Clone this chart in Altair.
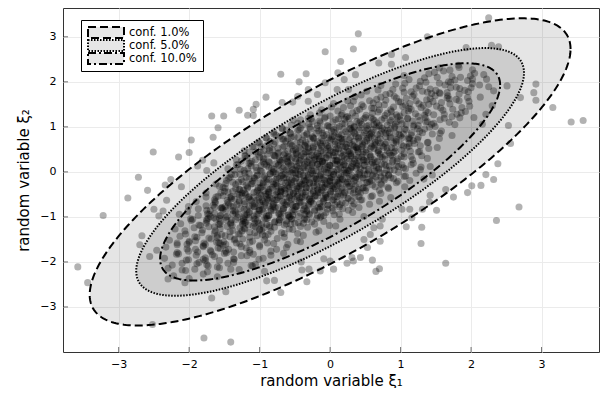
import altair as alt
import pandas as pd
import numpy as np

# ---- scatter samples (outer / sparse points) ----
edge_points = [
    (-1.68,1.24),(-1.51,1.24),(-1.29,1.37),(-1.59,0.98),(-1.66,0.77),(-1.97,0.71),(-2.51,0.44),(-2.15,0.33),
    (-2.00,0.43),(-2.72,-0.12),(-2.59,-0.41),(-2.87,-0.58),(-3.22,-0.97),(-2.26,-0.17),(-2.34,-0.29),(-2.32,-0.63),
    (-2.50,-0.83),(-2.43,-0.98),(-2.37,-0.87),(-3.58,-2.11),(-3.44,-2.46),(-2.67,-1.42),(-2.70,-1.62),(-2.56,-1.88),
    (-2.46,-1.74),(-2.52,-3.39),(-1.79,-3.69),(-1.41,-3.78),(-2.30,-2.38),(-2.06,-2.46),(-1.68,-2.80),(-1.48,-2.66),
    (-2.10,-2.18),(-0.07,2.67),(0.33,2.73),(0.15,2.45),(-0.70,2.17),(-0.34,2.18),(-0.44,2.00),(0.11,2.20),
    (-0.91,1.66),(-1.05,1.50),(-1.09,1.39),(-1.17,1.26),(-1.09,1.25),(-0.68,1.54),(-0.53,1.55),(-0.46,1.68),
    (-0.31,1.83),(-0.31,1.57),(2.25,3.42),(1.38,3.00),(1.07,2.54),(2.29,2.81),(2.39,2.78),(1.93,2.76),
    (2.51,1.91),(2.92,1.95),(2.89,1.76),(2.92,1.59),(2.70,1.65),(3.16,1.43),(3.42,1.11),(3.59,1.14),
    (2.53,1.03),(1.83,2.32),(1.85,2.10),(2.02,2.06),(2.00,1.87),(1.71,1.87),(1.68,2.00),(1.95,1.65),
    (1.66,1.64),(1.56,1.74),(1.40,1.50),(2.32,1.80),(2.30,1.47),(2.21,1.28),(2.04,1.21),(2.16,1.06),
    (1.87,1.43),(1.80,1.28),(2.68,-0.78),(2.36,-1.08),(2.38,0.18),(2.32,-0.17),(2.21,-0.06),(2.14,-0.30),
    (2.01,-0.31),(1.95,-0.46),(1.75,-0.56),(1.64,-0.39),(1.51,-0.85),(1.30,-1.23),(1.29,-1.59),(1.64,-2.03),
    (1.08,-1.22),(1.16,-1.02),(1.31,-0.83),(1.41,-0.67),(1.13,-0.83),(1.02,-0.83),(1.42,-0.52),(0.71,-1.54),
    (0.60,-1.96),(0.70,-2.15),(0.65,-2.21),(0.43,-1.90),(0.33,-1.98),(0.24,-2.03),(0.05,-2.16),(0.53,-1.68),
    (0.48,-1.50),(0.57,-1.39),(0.71,-1.20),(0.62,-1.24),(0.74,-1.05),(-0.33,-2.44),(-0.70,-2.68),(-0.79,-2.41),
    (-0.90,-2.42),(-0.40,-2.18),(-0.30,-2.16),(-0.14,-2.20),(-0.93,-2.21),(-1.06,-2.05),(-1.09,-1.83),(-0.41,-2.00),
    (-0.09,-1.93),(0.00,-1.98),(0.31,-1.90),(0.40,3.07),(0.87,2.61),(0.69,2.42),(0.87,2.39),(2.56,0.63),
    (-2.17,-1.62),(-2.01,-1.76),(-2.00,-1.54),(-1.86,-2.01),(-1.80,-1.94),(-1.73,-2.09),(-1.77,-1.61),(-1.58,-1.57),
    (-1.48,-1.76),(-1.41,-2.16),(-1.81,0.26),(-1.75,0.03),(-1.65,0.20),(-1.88,0.13),(-2.11,-0.33),(-2.01,-0.77),
    (-2.14,-0.94),(-1.95,-1.05),(-0.18,1.72),(-0.07,1.98),(0.10,1.83),(0.20,2.05),(0.26,1.83),(0.36,2.16),
]

# ---- dense core, estimated band by band (first pass) ----
core_points = [
    (1.12,2.05),(1.48,2.21),(1.73,2.12),(1.95,2.03),(2.18,2.16),(1.34,2.09),(1.61,2.24),(2.05,2.19),
    (0.68,1.82),(0.93,1.95),(1.15,1.78),(1.27,1.91),(1.42,1.84),(1.55,1.97),(1.66,1.76),(1.79,1.88),(1.91,1.81),
    (2.12,1.93),(1.03,1.86),(1.38,1.77),(1.71,1.99),
    (0.25,1.58),(0.44,1.71),(0.61,1.53),(0.72,1.66),(0.85,1.74),(0.97,1.56),(1.08,1.63),(1.19,1.72),(1.26,1.51),
    (1.37,1.60),(1.49,1.69),(1.58,1.54),(1.69,1.62),(1.83,1.73),(1.97,1.57),(0.91,1.68),(1.13,1.52),(1.44,1.74),
    (-0.15,1.31),(0.02,1.44),(0.17,1.29),(0.29,1.47),(0.38,1.36),(0.51,1.26),(0.59,1.42),(0.68,1.33),(0.77,1.49),
    (0.86,1.38),(0.94,1.27),(1.03,1.45),(1.11,1.35),(1.21,1.29),(1.29,1.43),(1.39,1.32),(1.51,1.46),(1.62,1.28),
    (1.74,1.39),(1.92,1.34),(0.45,1.49),(0.81,1.30),(1.07,1.48),(1.34,1.26),
    (-0.46,1.08),(-0.31,1.19),(-0.18,1.03),(-0.07,1.22),(0.04,1.11),(0.13,1.01),(0.21,1.17),(0.29,1.06),(0.36,1.24),
    (0.43,1.13),(0.52,1.02),(0.58,1.20),(0.66,1.09),(0.73,1.16),(0.81,1.04),(0.88,1.23),(0.95,1.12),(1.02,1.07),
    (1.10,1.18),(1.18,1.01),(1.27,1.14),(1.35,1.21),(1.44,1.06),(1.56,1.16),(1.69,1.10),(1.84,1.20),(0.25,1.23),
    (0.62,1.05),(0.99,1.24),(-0.25,1.12),
    (-0.77,0.82),(-0.62,0.93),(-0.51,0.78),(-0.42,0.97),(-0.33,0.86),(-0.24,0.76),(-0.16,0.91),(-0.09,0.81),
    (-0.01,0.99),(0.06,0.88),(0.12,0.77),(0.19,0.95),(0.25,0.84),(0.31,0.92),(0.37,0.79),(0.43,0.98),(0.49,0.87),
    (0.55,0.76),(0.61,0.94),(0.67,0.83),(0.73,0.90),(0.79,0.78),(0.86,0.96),(0.93,0.85),(1.00,0.80),(1.08,0.93),
    (1.16,0.87),(1.25,0.77),(1.34,0.95),(1.45,0.84),(1.58,0.91),(1.73,0.81),(0.03,0.78),(0.34,0.99),(0.58,0.85),
    (0.82,0.92),(-0.28,0.95),(1.12,0.76),
    (-0.98,0.56),(-0.85,0.68),(-0.74,0.53),(-0.66,0.72),(-0.57,0.61),(-0.49,0.51),(-0.42,0.66),(-0.35,0.57),
    (-0.28,0.74),(-0.22,0.63),(-0.16,0.52),(-0.10,0.69),(-0.04,0.58),(0.02,0.73),(0.07,0.62),(0.12,0.51),(0.17,0.67),
    (0.22,0.56),(0.27,0.71),(0.32,0.60),(0.37,0.54),(0.42,0.68),(0.47,0.59),(0.52,0.74),(0.57,0.63),(0.62,0.52),
    (0.68,0.70),(0.74,0.58),(0.80,0.66),(0.87,0.54),(0.94,0.72),(1.01,0.61),(1.09,0.55),(1.18,0.69),(1.28,0.58),
    (1.39,0.66),(1.52,0.54),(-0.60,0.74),(-0.13,0.60),(0.15,0.74),(0.40,0.52),(0.65,0.61),(0.90,0.64),(-0.31,0.53),
    (1.13,0.73),
    (-1.18,0.31),(-1.06,0.44),(-0.95,0.28),(-0.86,0.47),(-0.78,0.36),(-0.71,0.26),(-0.64,0.41),(-0.58,0.33),
    (-0.52,0.49),(-0.46,0.38),(-0.41,0.27),(-0.35,0.45),(-0.30,0.34),(-0.25,0.48),(-0.20,0.37),(-0.15,0.29),
    (-0.10,0.43),(-0.05,0.32),(0.00,0.47),(0.05,0.36),(0.10,0.26),(0.15,0.42),(0.20,0.31),(0.25,0.46),(0.30,0.35),
    (0.35,0.28),(0.40,0.44),(0.45,0.33),(0.51,0.49),(0.56,0.38),(0.62,0.27),(0.68,0.43),(0.74,0.32),(0.81,0.47),
    (0.88,0.36),(0.96,0.29),(1.05,0.41),(1.15,0.34),(1.27,0.45),(1.38,0.30),(-0.89,0.39),(-0.62,0.30),(-0.38,0.41),
    (-0.12,0.35),(0.08,0.49),(0.27,0.39),(0.48,0.26),(0.71,0.39),(-0.23,0.26),(0.33,0.49),(0.92,0.46),(-0.49,0.29),
    (-1.27,0.06),(-1.15,0.19),(-1.04,0.03),(-0.95,0.22),(-0.87,0.11),(-0.80,0.01),(-0.73,0.16),(-0.67,0.08),
    (-0.61,0.24),(-0.55,0.13),(-0.49,0.04),(-0.44,0.20),(-0.38,0.09),(-0.33,0.23),(-0.28,0.12),(-0.23,0.02),
    (-0.18,0.17),(-0.13,0.07),(-0.08,0.21),(-0.03,0.10),(0.02,0.01),(0.07,0.18),(0.12,0.06),(0.17,0.23),(0.22,0.13),
    (0.27,0.03),(0.32,0.19),(0.37,0.08),(0.42,0.24),(0.48,0.14),(0.54,0.05),(0.60,0.21),(0.66,0.10),(0.73,0.17),
    (0.80,0.04),(0.88,0.22),(0.97,0.12),(1.07,0.07),(1.18,0.19),(1.29,0.11),(-0.98,0.14),(-0.70,0.22),(-0.47,0.11),
    (-0.25,0.19),(-0.01,0.15),(0.20,0.04),(0.40,0.16),(0.63,0.02),(0.84,0.13),(-0.58,0.01),(-0.15,0.24),(0.10,0.24),
    (0.30,0.10),(0.52,0.23),(-0.35,0.02),
    (-1.47,-0.19),(-1.35,-0.06),(-1.24,-0.22),(-1.15,-0.03),(-1.07,-0.14),(-1.00,-0.24),(-0.93,-0.09),(-0.87,-0.17),
    (-0.81,-0.01),(-0.75,-0.12),(-0.69,-0.21),(-0.64,-0.05),(-0.58,-0.16),(-0.53,-0.02),(-0.48,-0.13),(-0.43,-0.23),
    (-0.38,-0.08),(-0.33,-0.18),(-0.28,-0.04),(-0.23,-0.15),(-0.18,-0.24),(-0.13,-0.07),(-0.08,-0.19),(-0.03,-0.02),
    (0.02,-0.12),(0.07,-0.22),(0.12,-0.06),(0.17,-0.16),(0.22,-0.01),(0.28,-0.11),(0.34,-0.20),(0.40,-0.04),
    (0.46,-0.14),(0.53,-0.23),(0.60,-0.08),(0.68,-0.18),(0.77,-0.03),(0.86,-0.13),(0.96,-0.21),(1.07,-0.09),
    (-1.19,-0.12),(-0.90,-0.23),(-0.66,-0.13),(-0.45,-0.05),(-0.21,-0.10),(0.00,-0.20),(0.25,-0.23),(0.49,-0.06),
    (0.72,-0.11),(-0.77,-0.04),(-0.35,-0.21),(-0.10,-0.13),(0.14,-0.15),(0.37,-0.12),(-0.55,-0.24),
    (-1.57,-0.32),(-1.45,-0.45),(-1.34,-0.28),(-1.25,-0.47),(-1.17,-0.36),(-1.10,-0.26),(-1.03,-0.41),(-0.97,-0.33),
    (-0.91,-0.49),(-0.85,-0.38),(-0.80,-0.27),(-0.74,-0.44),(-0.69,-0.34),(-0.64,-0.48),(-0.59,-0.37),(-0.54,-0.29),
    (-0.49,-0.43),(-0.44,-0.32),(-0.39,-0.47),(-0.34,-0.36),(-0.29,-0.26),(-0.24,-0.42),(-0.19,-0.31),(-0.14,-0.46),
    (-0.09,-0.35),(-0.04,-0.28),(0.01,-0.44),(0.06,-0.33),(0.11,-0.49),(0.17,-0.38),(0.23,-0.27),(0.29,-0.43),
    (0.36,-0.32),(0.43,-0.47),(0.51,-0.36),(0.60,-0.29),(0.70,-0.41),(0.82,-0.34),(-1.29,-0.39),(-1.00,-0.48),
    (-0.77,-0.31),(-0.57,-0.45),(-0.37,-0.28),(-0.17,-0.40),(0.03,-0.30),(0.21,-0.45),(0.40,-0.40),(-0.87,-0.44),
    (-0.47,-0.37),(-0.07,-0.49),(0.13,-0.26),(-0.27,-0.49),
    (-1.76,-0.56),(-1.63,-0.69),(-1.52,-0.53),(-1.44,-0.72),(-1.36,-0.61),(-1.29,-0.51),(-1.22,-0.66),(-1.16,-0.57),
    (-1.10,-0.74),(-1.04,-0.63),(-0.98,-0.52),(-0.92,-0.69),(-0.86,-0.58),(-0.81,-0.73),(-0.76,-0.62),(-0.71,-0.54),
    (-0.66,-0.68),(-0.61,-0.57),(-0.56,-0.71),(-0.51,-0.60),(-0.46,-0.52),(-0.41,-0.67),(-0.36,-0.56),(-0.31,-0.72),
    (-0.26,-0.61),(-0.21,-0.53),(-0.15,-0.70),(-0.09,-0.59),(-0.03,-0.74),(0.03,-0.63),(0.10,-0.55),(0.17,-0.68),
    (0.25,-0.58),(0.34,-0.71),(0.45,-0.62),(0.58,-0.55),(-1.40,-0.55),(-1.07,-0.70),(-0.78,-0.51),(-0.53,-0.74),
    (-0.28,-0.65),(-0.06,-0.52),(0.14,-0.73),(-0.89,-0.61),(-0.43,-0.58),
    (-1.87,-0.82),(-1.74,-0.93),(-1.64,-0.78),(-1.56,-0.97),(-1.48,-0.86),(-1.41,-0.76),(-1.34,-0.91),(-1.27,-0.81),
    (-1.21,-0.99),(-1.14,-0.88),(-1.08,-0.77),(-1.02,-0.94),(-0.96,-0.83),(-0.90,-0.98),(-0.84,-0.87),(-0.78,-0.79),
    (-0.72,-0.93),(-0.66,-0.82),(-0.60,-0.96),(-0.54,-0.85),(-0.48,-0.77),(-0.42,-0.92),(-0.36,-0.81),(-0.29,-0.95),
    (-0.22,-0.84),(-0.14,-0.78),(-0.06,-0.90),(0.03,-0.80),(0.13,-0.94),(0.26,-0.85),(0.41,-0.79),(-1.53,-0.80),
    (-1.18,-0.95),(-0.87,-0.76),(-0.57,-0.99),(-0.33,-0.88),(-0.09,-0.97),(-1.00,-0.85),
    (-1.97,-1.08),(-1.84,-1.19),(-1.73,-1.03),(-1.64,-1.22),(-1.56,-1.11),(-1.48,-1.01),(-1.41,-1.16),(-1.34,-1.06),
    (-1.28,-1.24),(-1.21,-1.13),(-1.15,-1.02),(-1.09,-1.20),(-1.03,-1.09),(-0.97,-1.17),(-0.91,-1.04),(-0.85,-1.23),
    (-0.79,-1.12),(-0.72,-1.07),(-0.65,-1.18),(-0.58,-1.01),(-0.50,-1.14),(-0.42,-1.21),(-0.33,-1.06),(-0.22,-1.16),
    (-0.09,-1.10),(0.08,-1.20),(-1.62,-1.05),(-1.25,-1.10),(-0.94,-1.24),(-0.62,-1.09),
    (-2.06,-1.31),(-1.92,-1.44),(-1.81,-1.29),(-1.72,-1.47),(-1.64,-1.36),(-1.56,-1.26),(-1.49,-1.42),(-1.42,-1.33),
    (-1.35,-1.49),(-1.28,-1.38),(-1.21,-1.27),(-1.14,-1.45),(-1.07,-1.35),(-1.00,-1.29),(-0.92,-1.43),(-0.84,-1.32),
    (-0.75,-1.48),(-0.65,-1.37),(-0.53,-1.28),(-0.38,-1.41),(-0.20,-1.34),(-1.60,-1.46),(-1.25,-1.31),(-0.96,-1.39),
    (-2.17,-1.58),(-2.03,-1.71),(-1.91,-1.53),(-1.80,-1.66),(-1.70,-1.74),(-1.61,-1.56),(-1.52,-1.63),(-1.44,-1.72),
    (-1.36,-1.51),(-1.28,-1.60),(-1.19,-1.69),(-1.10,-1.54),(-1.00,-1.66),(-0.89,-1.58),(-0.76,-1.72),(-0.60,-1.61),
    (-0.42,-1.55),(-1.56,-1.70),
    (-2.15,-1.82),(-2.01,-1.95),(-1.88,-1.78),(-1.77,-1.91),(-1.67,-1.84),(-1.57,-1.97),(-1.47,-1.80),(-1.37,-1.93),
    (-1.26,-1.86),(-1.14,-1.79),(-1.01,-1.94),(-0.84,-1.85),(-0.66,-1.81),
    (-2.24,-2.07),(-2.05,-2.19),(-1.89,-2.04),(-1.74,-2.22),(-1.60,-2.11),(-1.45,-2.03),(-1.29,-2.17),(-1.10,-2.09),
]

# ---- dense core, second pass (fills the inner ellipse more evenly) ----
core_points_b = [
    (1.55,2.31),(1.82,2.37),(2.02,2.27),(1.70,2.26),
    (1.05,2.14),(1.28,2.01),(1.52,2.10),(1.77,2.04),(1.99,2.13),(2.22,2.06),(1.40,2.18),
    (0.72,1.92),(0.89,1.83),(1.06,1.97),(1.22,1.86),(1.36,1.99),(1.50,1.81),(1.63,1.93),(1.84,1.85),(2.02,1.96),(2.25,1.89),
    (0.35,1.67),(0.52,1.79),(0.66,1.61),(0.79,1.72),(0.94,1.64),(1.05,1.77),(1.17,1.68),(1.31,1.79),(1.42,1.63),
    (1.55,1.76),(1.67,1.69),(1.79,1.61),(1.96,1.78),(2.13,1.66),
    (0.05,1.52),(0.19,1.43),(0.33,1.57),(0.47,1.45),(0.56,1.58),(0.69,1.49),(0.79,1.59),(0.90,1.44),(1.00,1.55),
    (1.12,1.41),(1.22,1.58),(1.32,1.48),(1.46,1.56),(1.57,1.42),(1.70,1.51),(1.83,1.58),(1.98,1.46),(0.62,1.41),
    (-0.28,1.27),(-0.12,1.38),(0.00,1.24),(0.11,1.35),(0.23,1.22),(0.32,1.31),(0.42,1.39),(0.50,1.21),(0.60,1.30),
    (0.70,1.38),(0.78,1.25),(0.87,1.34),(0.96,1.22),(1.05,1.31),(1.15,1.39),(1.25,1.23),(1.36,1.35),(1.47,1.27),
    (1.60,1.37),(1.73,1.23),(1.86,1.31),(0.16,1.26),
    (-0.52,1.15),(-0.39,1.04),(-0.27,1.18),(-0.14,1.09),(-0.03,1.02),(0.08,1.16),(0.17,1.07),(0.27,1.19),(0.34,1.01),
    (0.41,1.09),(0.48,1.18),(0.55,1.04),(0.63,1.14),(0.70,1.03),(0.77,1.19),(0.85,1.10),(0.92,1.01),(1.00,1.15),
    (1.08,1.05),(1.17,1.13),(1.25,1.03),(1.36,1.11),(1.49,1.01),(1.62,1.19),(1.77,1.05),(-0.08,1.19),
    (-0.80,0.88),(-0.68,0.97),(-0.56,0.85),(-0.46,0.92),(-0.37,0.81),(-0.29,0.99),(-0.20,0.86),(-0.12,0.94),
    (-0.05,0.83),(0.02,0.91),(0.09,0.98),(0.16,0.82),(0.22,0.89),(0.29,0.97),(0.35,0.85),(0.41,0.93),(0.47,0.81),
    (0.53,0.96),(0.59,0.88),(0.65,0.99),(0.71,0.84),(0.77,0.93),(0.84,0.87),(0.91,0.98),(0.98,0.83),(1.06,0.95),
    (1.15,0.82),(1.27,0.90),(1.41,0.99),(1.56,0.86),
    (-1.02,0.66),(-0.90,0.75),(-0.80,0.62),(-0.71,0.79),(-0.63,0.68),(-0.55,0.77),(-0.47,0.64),(-0.39,0.71),
    (-0.32,0.61),(-0.25,0.78),(-0.18,0.67),(-0.12,0.75),(-0.06,0.63),(0.00,0.70),(0.06,0.79),(0.11,0.65),(0.17,0.73),
    (0.23,0.61),(0.29,0.77),(0.34,0.68),(0.40,0.75),(0.46,0.62),(0.52,0.70),(0.58,0.79),(0.64,0.66),(0.71,0.74),
    (0.78,0.62),(0.85,0.78),(0.93,0.69),(1.02,0.76),(1.12,0.63),(1.24,0.72),(1.38,0.65),(1.55,0.74),
    (-1.22,0.47),(-1.10,0.56),(-0.99,0.43),(-0.90,0.59),(-0.82,0.49),(-0.74,0.41),(-0.67,0.55),(-0.60,0.46),
    (-0.54,0.58),(-0.48,0.42),(-0.42,0.51),(-0.36,0.59),(-0.30,0.45),(-0.24,0.53),(-0.18,0.41),(-0.12,0.57),
    (-0.06,0.48),(-0.01,0.55),(0.04,0.43),(0.09,0.52),(0.14,0.59),(0.19,0.46),(0.24,0.54),(0.29,0.41),(0.34,0.57),
    (0.39,0.49),(0.45,0.56),(0.51,0.43),(0.57,0.52),(0.63,0.59),(0.69,0.47),(0.76,0.55),(0.84,0.42),(0.92,0.53),
    (1.01,0.48),(1.12,0.57),(1.25,0.44),(1.40,0.52),
    (-1.33,0.27),(-1.21,0.36),(-1.11,0.23),(-1.02,0.39),(-0.94,0.30),(-0.86,0.21),(-0.79,0.35),(-0.72,0.28),
    (-0.66,0.38),(-0.60,0.22),(-0.54,0.31),(-0.48,0.39),(-0.43,0.25),(-0.37,0.33),(-0.32,0.21),(-0.26,0.37),
    (-0.21,0.28),(-0.16,0.35),(-0.11,0.23),(-0.06,0.31),(-0.01,0.39),(0.04,0.26),(0.09,0.34),(0.14,0.21),(0.19,0.37),
    (0.24,0.29),(0.29,0.36),(0.34,0.23),(0.40,0.32),(0.46,0.39),(0.52,0.27),(0.58,0.35),(0.64,0.22),(0.71,0.33),
    (0.78,0.28),(0.86,0.37),(0.95,0.24),(1.05,0.33),(1.17,0.27),(1.30,0.36),
    (-1.45,0.07),(-1.33,0.16),(-1.22,0.03),(-1.13,0.19),(-1.05,0.10),(-0.97,0.01),(-0.90,0.15),(-0.83,0.08),
    (-0.77,0.18),(-0.71,0.02),(-0.65,0.11),(-0.59,0.19),(-0.53,0.05),(-0.47,0.13),(-0.42,0.01),(-0.36,0.17),
    (-0.31,0.08),(-0.26,0.15),(-0.20,0.03),(-0.15,0.11),(-0.10,0.19),(-0.05,0.06),(0.00,0.14),(0.05,0.01),(0.10,0.17),
    (0.15,0.09),(0.20,0.16),(0.25,0.03),(0.31,0.12),(0.37,0.19),(0.43,0.07),(0.49,0.15),(0.55,0.02),(0.62,0.13),
    (0.69,0.08),(0.77,0.17),(0.85,0.04),(0.94,0.13),(1.04,0.09),(1.15,0.16),(1.28,0.05),(1.42,0.12),
    (-1.42,-0.12),(-1.28,-0.05),(-1.15,-0.16),(-1.04,-0.09),(-0.94,-0.13),(-0.85,-0.04),(-0.77,-0.17),(-0.69,-0.08),
    (-0.62,-0.13),(-0.55,-0.02),(-0.49,-0.15),(-0.43,-0.07),(-0.37,-0.19),(-0.31,-0.12),(-0.25,-0.03),(-0.20,-0.16),
    (-0.15,-0.09),(-0.10,-0.17),(-0.05,-0.01),(0.00,-0.14),(0.05,-0.06),(0.10,-0.19),(0.15,-0.11),(0.20,-0.03),
    (0.26,-0.15),(0.31,-0.08),(0.36,-0.17),(0.42,-0.01),(0.47,-0.13),(0.53,-0.05),(0.59,-0.19),(0.65,-0.11),
    (0.71,-0.02),(0.77,-0.18),(0.83,-0.08),(0.90,-0.15),(0.97,-0.01),(1.05,-0.10),(1.13,-0.19),(1.22,-0.03),
    (1.33,-0.16),(1.45,-0.07),
    (-1.62,-0.27),(-1.49,-0.36),(-1.38,-0.23),(-1.28,-0.39),(-1.19,-0.30),(-1.10,-0.21),(-1.02,-0.35),(-0.95,-0.28),
    (-0.88,-0.38),(-0.81,-0.22),(-0.75,-0.31),(-0.69,-0.39),(-0.63,-0.25),(-0.57,-0.33),(-0.51,-0.21),(-0.45,-0.37),
    (-0.40,-0.28),(-0.34,-0.35),(-0.29,-0.23),(-0.23,-0.31),(-0.18,-0.39),(-0.12,-0.26),(-0.07,-0.34),(-0.01,-0.21),
    (0.04,-0.37),(0.10,-0.29),(0.16,-0.36),(0.22,-0.23),(0.28,-0.32),(0.34,-0.39),(0.41,-0.27),(0.48,-0.35),
    (0.56,-0.22),(0.64,-0.33),(0.73,-0.28),(0.83,-0.37),(0.94,-0.24),(1.06,-0.33),(-0.60,-0.30),(0.00,-0.30),
    (-1.76,-0.47),(-1.62,-0.56),(-1.50,-0.43),(-1.40,-0.59),(-1.31,-0.49),(-1.23,-0.41),(-1.15,-0.55),(-1.08,-0.46),
    (-1.01,-0.58),(-0.94,-0.42),(-0.88,-0.51),(-0.82,-0.59),(-0.76,-0.45),(-0.70,-0.53),(-0.64,-0.41),(-0.58,-0.57),
    (-0.52,-0.48),(-0.47,-0.55),(-0.41,-0.43),(-0.35,-0.52),(-0.29,-0.59),(-0.24,-0.46),(-0.18,-0.54),(-0.12,-0.41),
    (-0.06,-0.57),(0.00,-0.49),(0.06,-0.56),(0.12,-0.43),(0.19,-0.52),(0.26,-0.59),(0.33,-0.47),(0.41,-0.55),
    (0.50,-0.42),(0.60,-0.53),(0.72,-0.48),(0.86,-0.57),(-1.20,-0.50),(-0.70,-0.44),
    (-1.90,-0.66),(-1.76,-0.75),(-1.64,-0.62),(-1.54,-0.79),(-1.45,-0.68),(-1.37,-0.77),(-1.29,-0.64),(-1.21,-0.71),
    (-1.14,-0.61),(-1.07,-0.78),(-1.00,-0.67),(-0.93,-0.75),(-0.87,-0.63),(-0.80,-0.70),(-0.74,-0.79),(-0.68,-0.65),
    (-0.62,-0.73),(-0.55,-0.61),(-0.49,-0.77),(-0.43,-0.68),(-0.37,-0.75),(-0.30,-0.62),(-0.24,-0.70),(-0.17,-0.79),
    (-0.10,-0.66),(-0.03,-0.74),(0.05,-0.62),(0.13,-0.78),(0.22,-0.69),(0.32,-0.76),(0.43,-0.63),(0.56,-0.72),
    (0.70,-0.65),(-0.96,-0.62),
    (-2.02,-0.88),(-1.87,-0.97),(-1.75,-0.85),(-1.64,-0.92),(-1.55,-0.81),(-1.46,-0.99),(-1.38,-0.86),(-1.30,-0.94),
    (-1.22,-0.83),(-1.15,-0.91),(-1.08,-0.98),(-1.01,-0.82),(-0.94,-0.89),(-0.87,-0.97),(-0.80,-0.85),(-0.73,-0.93),
    (-0.66,-0.81),(-0.59,-0.96),(-0.52,-0.88),(-0.45,-0.99),(-0.38,-0.84),(-0.30,-0.93),(-0.22,-0.87),(-0.13,-0.98),
    (-0.04,-0.83),(0.06,-0.95),(0.18,-0.82),(0.32,-0.90),(0.48,-0.99),(-1.70,-0.99),
    (-2.12,-1.15),(-1.98,-1.04),(-1.86,-1.18),(-1.75,-1.09),(-1.65,-1.02),(-1.56,-1.16),(-1.47,-1.07),(-1.39,-1.19),
    (-1.31,-1.01),(-1.23,-1.09),(-1.16,-1.18),(-1.08,-1.04),(-1.01,-1.14),(-0.93,-1.03),(-0.86,-1.19),(-0.78,-1.10),
    (-0.70,-1.01),(-0.62,-1.15),(-0.54,-1.05),(-0.45,-1.13),(-0.36,-1.03),(-0.26,-1.11),(-0.14,-1.01),(-0.01,-1.19),
    (0.14,-1.05),(-1.20,-1.12),
    (-2.20,-1.27),(-2.05,-1.38),(-1.93,-1.24),(-1.82,-1.35),(-1.72,-1.22),(-1.63,-1.31),(-1.54,-1.39),(-1.46,-1.21),
    (-1.38,-1.30),(-1.30,-1.38),(-1.22,-1.25),(-1.14,-1.34),(-1.06,-1.22),(-0.97,-1.31),(-0.88,-1.39),(-0.79,-1.23),
    (-0.69,-1.35),(-0.58,-1.27),(-0.46,-1.37),(-0.32,-1.23),(-0.16,-1.31),(-1.00,-1.27),
    (-2.28,-1.52),(-2.13,-1.43),(-2.00,-1.57),(-1.89,-1.45),(-1.79,-1.58),(-1.69,-1.49),(-1.60,-1.41),(-1.51,-1.55),
    (-1.42,-1.44),(-1.33,-1.58),(-1.24,-1.49),(-1.14,-1.56),(-1.04,-1.42),(-0.93,-1.51),(-0.80,-1.59),(-0.65,-1.45),
    (-0.47,-1.53),(-1.56,-1.59),
    (-2.33,-1.67),(-2.17,-1.79),(-2.03,-1.61),(-1.91,-1.72),(-1.80,-1.64),(-1.69,-1.77),(-1.59,-1.69),(-1.48,-1.61),
    (-1.37,-1.78),(-1.26,-1.66),(-1.14,-1.74),(-1.00,-1.63),(-0.84,-1.76),(-0.62,-1.68),
    (-2.35,-1.92),(-2.18,-1.83),(-2.04,-1.96),(-1.90,-1.85),(-1.77,-1.97),(-1.64,-1.88),(-1.50,-1.81),(-1.36,-1.94),
    (-1.18,-1.86),(-0.95,-1.92),
    (-2.30,-2.14),(-2.10,-2.03),(-1.92,-2.16),(-1.75,-2.06),(-1.57,-2.13),(-1.37,-2.01),(-1.12,-2.08),
    (-2.22,-2.31),(-2.00,-2.37),(-1.80,-2.27),(-1.60,-2.33),
]

# ---- densest centre, third pass ----
core_points_c = [
    (-0.42,1.16),(-0.15,1.13),(0.12,1.18),(0.38,1.12),(0.61,1.17),(0.86,1.14),(1.10,1.19),(1.38,1.12),
    (-0.55,1.04),(-0.30,1.07),(-0.04,1.03),(0.21,1.08),(0.45,1.05),(0.69,1.02),(0.93,1.07),(1.19,1.04),(1.47,1.08),
    (-0.68,0.96),(-0.44,0.93),(-0.19,0.97),(0.05,0.94),(0.28,0.96),(0.51,0.92),(0.74,0.97),(0.98,0.94),(1.24,0.96),
    (-0.80,0.84),(-0.57,0.87),(-0.33,0.83),(-0.11,0.86),(0.12,0.84),(0.34,0.88),(0.56,0.83),(0.79,0.86),(1.04,0.84),(1.31,0.87),
    (-0.91,0.76),(-0.68,0.73),(-0.45,0.77),(-0.23,0.74),(-0.02,0.76),(0.20,0.72),(0.41,0.77),(0.63,0.74),(0.86,0.76),(1.11,0.73),
    (-1.00,0.64),(-0.78,0.67),(-0.56,0.63),(-0.35,0.66),(-0.14,0.64),(0.07,0.67),(0.28,0.63),(0.49,0.66),(0.71,0.64),
    (0.94,0.67),(1.20,0.63),
    (-1.08,0.56),(-0.86,0.53),(-0.65,0.57),(-0.44,0.54),(-0.24,0.56),(-0.03,0.53),(0.18,0.57),(0.38,0.54),(0.59,0.56),
    (0.81,0.53),(1.04,0.57),
    (-1.15,0.44),(-0.94,0.47),(-0.73,0.43),(-0.53,0.46),(-0.33,0.44),(-0.13,0.47),(0.07,0.43),(0.27,0.46),(0.47,0.44),
    (0.68,0.47),(0.90,0.43),(1.14,0.46),
    (-1.20,0.36),(-1.00,0.33),(-0.80,0.37),(-0.60,0.34),(-0.41,0.36),(-0.22,0.33),(-0.02,0.37),(0.17,0.34),(0.37,0.36),
    (0.57,0.33),(0.78,0.37),(1.01,0.34),
    (-1.26,0.24),(-1.06,0.27),(-0.87,0.23),(-0.68,0.26),(-0.49,0.24),(-0.30,0.27),(-0.11,0.23),(0.08,0.26),(0.27,0.24),
    (0.47,0.27),(0.67,0.23),(0.89,0.26),
    (-1.31,0.16),(-1.12,0.13),(-0.93,0.17),(-0.74,0.14),(-0.56,0.16),(-0.37,0.13),(-0.18,0.17),(0.00,0.14),(0.19,0.16),
    (0.38,0.13),(0.58,0.17),(0.79,0.14),(1.02,0.16),
    (-1.36,0.04),(-1.17,0.07),(-0.99,0.03),(-0.80,0.06),(-0.62,0.04),(-0.44,0.07),(-0.26,0.03),(-0.08,0.06),(0.10,0.04),
    (0.29,0.07),(0.48,0.03),(0.69,0.06),(0.91,0.04),
    (-1.40,-0.06),(-1.21,-0.03),(-1.03,-0.07),(-0.85,-0.04),(-0.67,-0.06),(-0.49,-0.03),(-0.31,-0.07),(-0.13,-0.04),
    (0.05,-0.06),(0.23,-0.03),(0.42,-0.07),(0.62,-0.04),(0.83,-0.06),
    (-1.44,-0.14),(-1.26,-0.17),(-1.08,-0.13),(-0.90,-0.16),(-0.72,-0.14),(-0.54,-0.17),(-0.37,-0.13),(-0.19,-0.16),
    (-0.01,-0.14),(0.17,-0.17),(0.36,-0.13),(0.56,-0.16),(0.77,-0.14),
    (-1.48,-0.26),(-1.30,-0.23),(-1.12,-0.27),(-0.95,-0.24),(-0.77,-0.26),(-0.60,-0.23),(-0.42,-0.27),(-0.24,-0.24),
    (-0.06,-0.26),(0.12,-0.23),(0.31,-0.27),(0.51,-0.24),(0.72,-0.26),
    (-1.52,-0.34),(-1.34,-0.37),(-1.17,-0.33),(-0.99,-0.36),(-0.82,-0.34),(-0.65,-0.37),(-0.47,-0.33),(-0.29,-0.36),
    (-0.11,-0.34),(0.07,-0.37),(0.26,-0.33),(0.46,-0.36),
    (-1.55,-0.46),(-1.38,-0.43),(-1.21,-0.47),(-1.04,-0.44),(-0.87,-0.46),(-0.70,-0.43),(-0.52,-0.47),(-0.35,-0.44),
    (-0.17,-0.46),(0.01,-0.43),(0.20,-0.47),(0.40,-0.44),
    (-1.59,-0.54),(-1.42,-0.57),(-1.25,-0.53),(-1.08,-0.56),(-0.91,-0.54),(-0.74,-0.57),(-0.57,-0.53),(-0.40,-0.56),
    (-0.22,-0.54),(-0.04,-0.57),(0.15,-0.53),(0.35,-0.56),
    (-1.63,-0.66),(-1.46,-0.63),(-1.29,-0.67),(-1.12,-0.64),(-0.95,-0.66),(-0.78,-0.63),(-0.61,-0.67),(-0.44,-0.64),
    (-0.27,-0.66),(-0.09,-0.63),(0.10,-0.67),(0.30,-0.64),
    (-1.66,-0.74),(-1.49,-0.77),(-1.32,-0.73),(-1.15,-0.76),(-0.98,-0.74),(-0.81,-0.77),(-0.64,-0.73),(-0.47,-0.76),
    (-0.30,-0.74),(-0.12,-0.77),(0.07,-0.73),
    (-1.70,-0.86),(-1.52,-0.83),(-1.35,-0.87),(-1.18,-0.84),(-1.01,-0.86),(-0.84,-0.83),(-0.67,-0.87),(-0.50,-0.84),
    (-0.33,-0.86),(-0.15,-0.83),(0.04,-0.87),
    (-1.72,-0.94),(-1.55,-0.97),(-1.38,-0.93),(-1.21,-0.96),(-1.04,-0.94),(-0.87,-0.97),(-0.70,-0.93),(-0.53,-0.96),
    (-0.36,-0.94),(-0.18,-0.97),
    (-1.75,-1.06),(-1.57,-1.03),(-1.40,-1.07),(-1.23,-1.04),(-1.06,-1.06),(-0.89,-1.03),(-0.72,-1.07),(-0.55,-1.04),
    (-0.37,-1.06),(-0.19,-1.03),
    (-1.76,-1.14),(-1.58,-1.17),(-1.41,-1.13),(-1.24,-1.16),(-1.07,-1.14),(-0.90,-1.17),(-0.73,-1.13),(-0.56,-1.16),
    (-0.38,-1.14),
]

# ---- confidence ellipse parameters ----
center = (0.0, 0.0)
sigma_x, sigma_y, rho = 1.124, 1.124, 0.80
levels = [0.01, 0.05, 0.10]
level_labels = ["conf. 1.0%", "conf. 5.0%", "conf. 10.0%"]
dash_styles = [[8, 4], [1.5, 1.5], [8, 3, 2, 3]]

ticks = [-3, -2, -1, 0, 1, 2, 3]
x_domain = [-3.79, 3.815]
y_domain = [-4.0, 3.64]

W, H = 536, 344

pts = pd.DataFrame(edge_points + core_points + core_points_b + core_points_c, columns=["x", "y"])

outline_rows, fill_rows = [], []
t_line = np.linspace(0, 2 * np.pi, 361)
t_fill = np.linspace(0, np.pi, 241)
s = np.sqrt(1 - rho ** 2)
for lvl, lab in zip(levels, level_labels):
    r = np.sqrt(-2 * np.log(lvl))
    for i, t in enumerate(t_line):
        outline_rows.append({"level": lab, "i": i,
                             "x": center[0] + r * sigma_x * np.cos(t),
                             "y": center[1] + r * sigma_y * (rho * np.cos(t) + s * np.sin(t))})
    for t in t_fill:
        fill_rows.append({"level": lab,
                          "x": center[0] + r * sigma_x * np.cos(t),
                          "y": center[1] + r * sigma_y * (rho * np.cos(t) + s * np.sin(t)),
                          "y2": center[1] + r * sigma_y * (rho * np.cos(t) - s * np.sin(t))})
outline = pd.DataFrame(outline_rows)
fills = pd.DataFrame(fill_rows)
tick_df = pd.DataFrame({"x": ticks, "y": ticks})

xs = alt.Scale(domain=x_domain, nice=False, zero=False)
ys = alt.Scale(domain=y_domain, nice=False, zero=False)
x_axis = alt.Axis(values=ticks, format="d", title="random variable ξ₁", grid=True, ticks=False, domain=False,
                  labelPadding=6, titlePadding=4)
y_axis = alt.Axis(values=ticks, format="d", title="random variable ξ₂", grid=True, ticks=False, domain=False,
                  labelPadding=7, titlePadding=8)

fill_layer = alt.Chart(fills).mark_area(color="black", opacity=0.1, clip=True).encode(
    x=alt.X("x:Q", scale=xs, axis=x_axis),
    y=alt.Y("y:Q", scale=ys, axis=y_axis, stack=None),
    y2="y2:Q",
    detail="level:N",
)

point_layer = alt.Chart(pts).mark_circle(size=50, color="black", opacity=0.3).encode(
    x=alt.X("x:Q", scale=xs, axis=x_axis),
    y=alt.Y("y:Q", scale=ys, axis=y_axis),
)

line_layer = alt.Chart(outline).mark_line(color="black", strokeWidth=2).encode(
    x=alt.X("x:Q", scale=xs, axis=x_axis),
    y=alt.Y("y:Q", scale=ys, axis=y_axis),
    order="i:Q",
    strokeDash=alt.StrokeDash(
        "level:N",
        scale=alt.Scale(domain=level_labels, range=dash_styles),
        sort=level_labels,
        legend=alt.Legend(
            title=None, orient="none", legendX=18, legendY=12,
            symbolType="M-1,-1.1H6.2V1.1H-1Z", symbolSize=100,
            symbolFillColor="#e6e6e6", symbolStrokeColor="black", symbolStrokeWidth=2,
            labelFontSize=11.5, labelOffset=30, fillColor="white", strokeColor="black",
            padding=6, rowPadding=0, clipHeight=13,
        ),
    ),
)

xtick_layer = alt.Chart(tick_df).mark_tick(color="#333", thickness=1, size=5).encode(
    x=alt.X("x:Q", scale=xs, axis=x_axis), y=alt.value(H - 2.5))
ytick_layer = alt.Chart(tick_df).mark_tick(color="#333", thickness=1, size=5).encode(
    y=alt.Y("y:Q", scale=ys, axis=y_axis), x=alt.value(2.5))

chart = alt.layer(fill_layer, point_layer, line_layer, xtick_layer, ytick_layer).properties(
    width=W, height=H,
    autosize=alt.AutoSizeParams(type="none"),
    padding={"left": 55, "top": 0, "right": 2, "bottom": 36},
).configure(font="DejaVu Sans").configure_view(
    stroke="#333", strokeWidth=1
).configure_axis(
    gridColor="#ebebeb", gridWidth=1, labelFontSize=11, labelColor="black",
    titleFontSize=15, titleFontWeight="normal", titleColor="black",
)

chart.save("out.html", embed_options={"renderer": "svg", "actions": False})
